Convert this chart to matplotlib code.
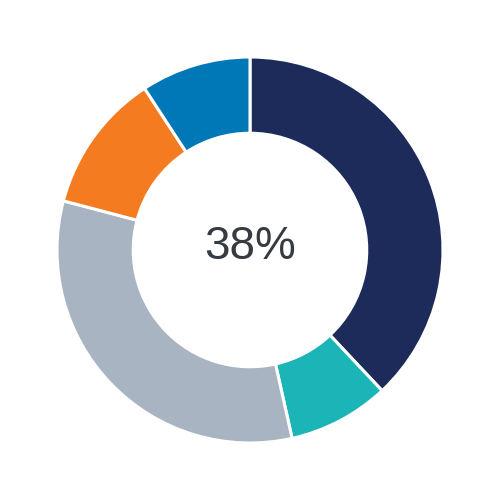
import matplotlib
matplotlib.use('Agg')
import matplotlib.pyplot as plt

# segment shares, clockwise from the top
labels = ['Navy', 'Teal', 'Gray', 'Orange', 'Blue']
values = [38, 8.5, 32.6, 11.7, 9.2]
colors = ['#1C2B5A', '#1BB5B7', '#A9B4C2', '#F47B20', '#0077B6']
center_text = '38%'

fig = plt.figure(figsize=(5, 5), dpi=100)
ax = fig.add_axes([0, 0, 1, 1])

ax.pie(values, colors=colors, startangle=90, counterclock=False,
       radius=1.0,
       wedgeprops=dict(width=0.395, edgecolor='white', linewidth=2.2))

ax.text(0, 0.015, center_text, ha='center', va='center',
        fontsize=33, color='#363B42', family=['Liberation Sans', 'DejaVu Sans'])

lim = 250 / 193
ax.set_xlim(-lim, lim)
ax.set_ylim(-lim, lim)
ax.set_aspect('equal')
ax.axis('off')

fig.savefig('out.png', dpi=100, facecolor='white')
